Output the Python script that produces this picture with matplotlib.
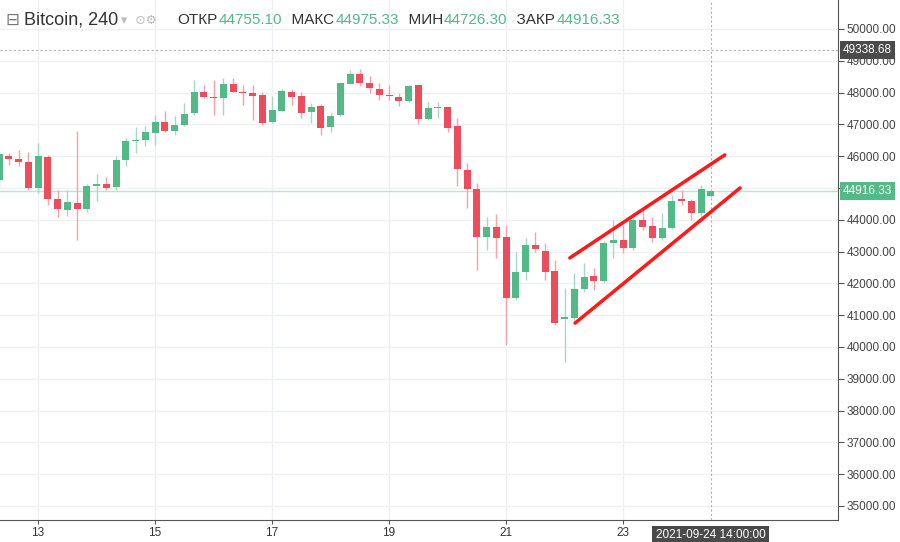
import matplotlib.pyplot as plt
import numpy as np

plt.rcParams['font.family'] = ['Liberation Sans', 'DejaVu Sans']

# 4h candles, 2021-09-12 08:00 .. 2021-09-24 12:00
opens = [45250, 46000, 45910, 45820, 45000, 45970, 44650, 44310, 44530, 44340,
         45060, 45120, 45030, 45880, 46480, 46510, 46730, 47080, 46790, 46980,
         47360, 48020, 47860, 47830, 48270, 48020, 47990, 47920, 47070, 47420,
         48020, 47890, 47390, 47580, 46920, 47300, 48270, 48590, 48300, 48110,
         47920, 47860, 47740, 48240, 47170, 47520, 47550, 46950, 45570, 44970,
         43460, 43770, 43460, 41540, 42360, 43210, 43020, 42390, 40880, 40910,
         41820, 42230, 42070, 43270, 43360, 43110, 43990, 43800, 43430, 43740,
         44650, 44590, 44210, 44755.10]
closes = [46070, 45910, 45820, 45000, 46000, 44650, 44340, 44560, 44340, 45060,
          45120, 45000, 45880, 46480, 46510, 46760, 47080, 46790, 46980, 47330,
          48020, 47860, 47830, 48270, 48020, 47990, 47900, 47040, 47450, 48050,
          47860, 47360, 47550, 46890, 47260, 48300, 48590, 48300, 48140, 47920,
          47890, 47740, 48210, 47170, 47520, 47550, 46890, 45600, 44970, 43460,
          43770, 43430, 41540, 42360, 43210, 43080, 42360, 40750, 40940, 41820,
          42200, 42070, 43270, 43360, 43110, 43990, 43770, 43430, 43740, 44590,
          44590, 44210, 44970, 44916.33]
highs = [46100, 46100, 46200, 46130, 46410, 46040, 44940, 44940, 46800, 45120,
         45440, 45350, 46000, 46570, 46920, 46950, 47300, 47420, 47260, 47670,
         48400, 48240, 48400, 48460, 48460, 48240, 48240, 48020, 47890, 48110,
         48110, 48020, 47670, 47640, 47360, 48300, 48710, 48740, 48510, 48300,
         48250, 47990, 48240, 48240, 47710, 47710, 47550, 47200, 45790, 45160,
         44090, 44180, 43840, 42990, 43430, 43620, 43270, 42740, 41850, 42330,
         42640, 42480, 43330, 43990, 43830, 44210, 44300, 44080, 44210, 44780,
         44940, 44650, 45100, 44975.33]
lows = [45000, 45720, 45700, 44940, 44840, 44460, 44090, 44120, 43360, 44250,
        44590, 44940, 44940, 45690, 46100, 46320, 46350, 46760, 46670, 46950,
        47300, 47830, 47300, 47300, 48020, 47610, 47140, 46980, 47040, 47420,
        47610, 47200, 47040, 46670, 46760, 47270, 48270, 48200, 47990, 47770,
        47770, 47580, 47710, 47010, 47140, 47200, 46760, 45060, 44370, 42420,
        43050, 42800, 40060, 41480, 42110, 42990, 42110, 40690, 39530, 40810,
        41730, 41790, 42010, 42810, 42950, 43050, 43670, 43300, 43360, 43710,
        44460, 43990, 43990, 44726.30]

day_ticks = [13, 15, 17, 19, 21, 23]
price_ticks = list(range(35000, 50001, 1000))
last_high = 49338.68
cursor_label = "2021-09-24 14:00:00"
# channel lines (day, price)
upper_ch = ([22.09, 24.74], [42800, 46040])
lower_ch = ([22.18, 25.00], [40750, 45000])

UP, DOWN = '#53b987', '#eb4d5c'
UPW, DOWNW = '#a9d8c2', '#f3a3ab'

fig = plt.figure(figsize=(9, 5.42), dpi=100)
fig.patch.set_facecolor('white')
ax = fig.add_axes([0, 22 / 542, 838 / 900, 520 / 542])

n = len(opens)
xs = 12 + (8 + 4 * np.arange(n)) / 24.0
w = 0.12
for x, o, c, h, l in zip(xs, opens, closes, highs, lows):
    up = c >= o
    ax.vlines(x, l, h, color=UPW if up else DOWNW, lw=1, zorder=2)
    lo, hi = min(o, c), max(o, c)
    ax.bar(x, max(hi - lo, 25), w, bottom=lo, color=UP if up else DOWN,
           lw=0, zorder=3)

ax.plot(*upper_ch, color='#ff1a1a', lw=2.5, zorder=4, solid_capstyle='round')
ax.plot(*lower_ch, color='#ff1a1a', lw=2.5, zorder=4, solid_capstyle='round')

ax.axhline(closes[-1], color='#bfe3d1', lw=1, zorder=1)
ax.axhline(last_high, color='#b0b0b0', lw=0.8, ls=(0, (2, 2)), zorder=1)
ax.axvline(xs[-1], color='#b0b0b0', lw=0.8, ls=(0, (2, 2)), zorder=1)

ax.set_xlim(12.35, 12.35 + 838 / 58.5)
ax.set_ylim(34558, 50912)
ax.set_xticks(day_ticks)
ax.set_xticklabels([str(d) for d in day_ticks])
ax.set_yticks(price_ticks)
ax.set_yticklabels([f"{p:.2f}" for p in price_ticks])
ax.yaxis.tick_right()
ax.grid(True, color='#eef1f3', lw=1)
ax.set_axisbelow(True)
for s in ['top', 'left']:
    ax.spines[s].set_visible(False)
for s in ['right', 'bottom']:
    ax.spines[s].set_color('#555555')
ax.tick_params(axis='y', colors='#555555', labelcolor='#444444', labelsize=8.5, length=4, pad=2)
ax.tick_params(axis='x', colors='#555555', labelcolor='#333333', labelsize=8.5, length=3, pad=2)

ax.text(1.006, last_high, f"{last_high:.2f}", transform=ax.get_yaxis_transform(),
        va='center', ha='left', fontsize=8.5, color='white', zorder=6,
        bbox=dict(boxstyle='square,pad=0.25', fc='#4a4a4a', ec='none'), clip_on=False)
ax.text(1.006, closes[-1], f"{closes[-1]:.2f}", transform=ax.get_yaxis_transform(),
        va='center', ha='left', fontsize=8.5, color='white', zorder=6,
        bbox=dict(boxstyle='square,pad=0.25', fc='#53b987', ec='none'), clip_on=False)
ax.text(xs[-1], -0.018, cursor_label, transform=ax.get_xaxis_transform(),
        ha='center', va='top', fontsize=8.5, color='white', zorder=6,
        bbox=dict(boxstyle='square,pad=0.3', fc='#4a4a4a', ec='none'), clip_on=False)

# header
hdr = [("Bitcoin, 240", '#333333', 13), ("   ", None, 10),
       ("ОТКР", '#333333', 11), ("44755.10", UP, 11),
       ("  МАКС", '#333333', 11), ("44975.33", UP, 11),
       ("  МИН", '#333333', 11), ("44726.30", UP, 11),
       ("  ЗАКР", '#333333', 11), ("44916.33", UP, 11)]
fig.canvas.draw()
r = fig.canvas.get_renderer()
xpos = 24
fig.text(5 / 900, 1 - 20 / 542, "⊟", fontsize=12, color='#777777', va='center',
         family='DejaVu Sans')
for txt, col, fs in hdr:
    if col is None:
        fig.text((xpos + 2) / 900, 1 - 20 / 542, "▾  ⊙⚙", fontsize=9, color='#bbbbbb',
                 va='center', family='DejaVu Sans')
        xpos += 58
        continue
    t = fig.text(xpos / 900, 1 - 20 / 542, txt, fontsize=fs, color=col, va='center')
    xpos += t.get_window_extent(r).width + 1

fig.savefig('out.png', dpi=100, facecolor='white')
